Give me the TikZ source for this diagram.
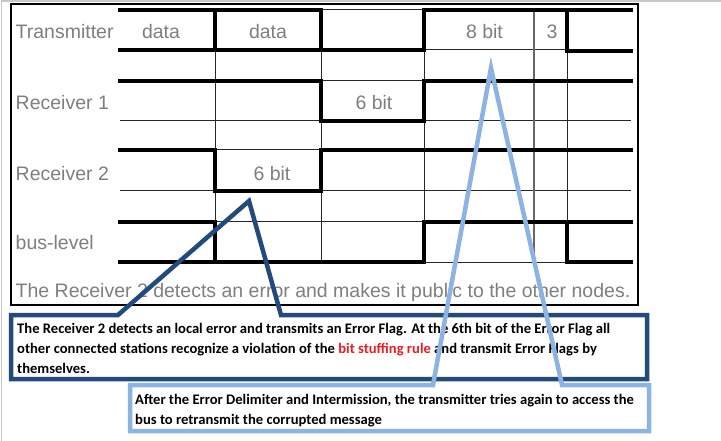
\documentclass[tikz,border=0pt]{standalone}
\usepackage{fontspec}
\setmainfont{Liberation Sans}
\newfontfamily\calibrifont{Carlito}
\definecolor{lblgray}{HTML}{7F7F7F}
\definecolor{darkcall}{HTML}{234A7C}
\definecolor{lightcall}{HTML}{8DB3E2}
\definecolor{pageline}{HTML}{C8C8C8}
\definecolor{rulered}{HTML}{E81E25}
\tikzset{
  gridline/.style={line width=1pt, black!85},
  sig/.style={line width=3.4pt, black, line join=miter, line cap=rect},
  lbl/.style={anchor=base west, inner sep=0pt, text=lblgray, font=\fontsize{19.5}{20}\selectfont},
  celllbl/.style={anchor=base, inner sep=0pt, text=lblgray, font=\fontsize{19.5}{20}\selectfont},
  calltext/.style={anchor=base west, inner sep=0pt, text=black, font=\calibrifont\bfseries\fontsize{14.6}{20}\selectfont},
  darkbox/.style={line width=4.5pt, draw=darkcall, line join=miter},
  lightbox/.style={line width=4.5pt, draw=lightcall, line join=miter}
}
\begin{document}
\begin{tikzpicture}[x=1pt,y=-1pt]
\useasboundingbox (0,0) rectangle (721,441);
\fill[white] (0,0) rectangle (721,441);
% page border
\draw[pageline, line width=1.5pt] (1.5,441) -- (1.5,1) -- (721,1);
% outer box
\draw[line width=2pt, black] (11,4) rectangle (638,305);
% thin grid
\foreach \yy in {10,50,81,121,150,191,222,262}{
  \draw[gridline] (120,\yy) -- (631,\yy);
}
\foreach \xx in {215,321,424,567}{
  \draw[gridline] (\xx,10) -- (\xx,262);
}
\draw[line width=1.4pt, black!60] (534,10) -- (534,262);
% transmitter
\draw[sig] (120,10) -- (321,10);
\draw[sig] (120,50) -- (424,50);
\draw[sig] (215,10) -- (215,50);
\draw[sig] (321,10) -- (321,50);
\draw[sig] (424,50) -- (424,10) -- (567,10);
\draw[sig] (567,50) -- (567,10) -- (631,10);
\draw[sig] (567,51) -- (631,51);
% receiver 1
\draw[sig] (120,81) -- (321,81) -- (321,121) -- (424,121) -- (424,81) -- (631,81);
% receiver 2
\draw[sig] (120,150) -- (215,150) -- (215,191) -- (321,191) -- (321,150) -- (631,150);
% bus level
\draw[sig] (120,222) -- (215,222) -- (215,262);
\draw[sig] (120,262) -- (424,262) -- (424,222) -- (567,222) -- (567,262) -- (631,262);
\draw[sig] (567,222) -- (631,222);
% labels
\node[lbl] (tx) at (15.5,39) {Transmitter};
\node[lbl] (r1) at (15.5,110) {Receiver 1};
\node[lbl] (r2) at (15.5,181) {Receiver 2};
\node[lbl] (bus) at (15.5,250) {bus-level};
\node[lbl] (caption) at (15.5,298) {The Receiver 2 detects an error and makes it public to the other nodes.};
\node[celllbl] (d1) at (161,39) {data};
\node[celllbl] (d2) at (268,39) {data};
\node[celllbl] (b8) at (484.5,39) {8 bit};
\node[celllbl] (b3) at (552,39) {3};
\node[celllbl] (b6a) at (374,110) {6 bit};
\node[celllbl] (b6b) at (272,181) {6 bit};
% dark callout
\fill[white] (11,315) rectangle (647,379);
\draw[darkbox] (11,315) -- (118,315) -- (249,201) -- (281,315) -- (647,315) -- (647,379) -- (11,379) -- cycle;
\node[calltext] (c1a) at (17,333) {The Receiver 2 detects an local error and transmits an Error Flag. At the 6th bit of the Error Flag all};
\node[calltext] (c1b) at (17,353) {other connected stations recognize a violation of the \textcolor{rulered}{bit stuffing rule} and transmit Error Flags by};
\node[calltext] (c1c) at (17,373) {themselves.};
% light callout
\fill[white] (130,385) rectangle (649,431);
\draw[lightbox] (130,385) -- (433,385) -- (491,68) -- (562,385) -- (649,385) -- (649,431) -- (130,431) -- cycle;
\node[calltext] (c2a) at (135,404) {After the Error Delimiter and Intermission, the transmitter tries again to access the};
\node[calltext] (c2b) at (135,424) {bus to retransmit the corrupted message};
\end{tikzpicture}
\end{document}
